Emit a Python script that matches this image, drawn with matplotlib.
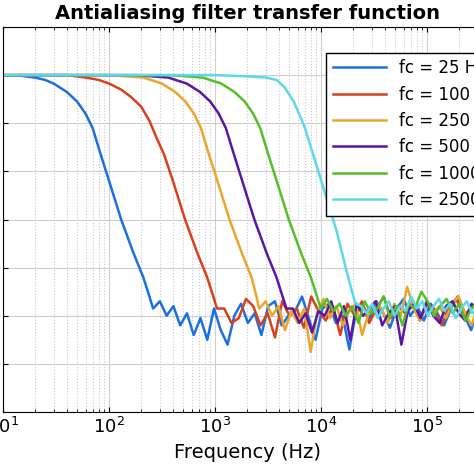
import numpy as np
import matplotlib
matplotlib.use('Agg')
import matplotlib.pyplot as plt

labels = ['fc = 25 Hz', 'fc = 100', 'fc = 250', 'fc = 500', 'fc = 1000', 'fc = 2500']
colors = ['#1c6fe0', '#d9401c', '#e8a72c', '#5a16a8', '#55bf28', '#5cd8ec']

# roll-off part of each curve (Hz, dB)
roll_f = [
    [10, 15, 20, 25, 30, 40, 50, 60, 70, 82, 100, 130, 170, 210, 240, 260],
    [10, 40, 60, 80, 100, 130, 160, 200, 240, 280, 330, 400, 520, 680, 840, 960, 1040],
    [10, 105, 210, 315, 420, 525, 630, 735, 860, 1050, 1365, 1785, 2200, 2450, 2600],
    [10, 180, 360, 540, 720, 900, 1080, 1260, 1480, 1800, 2340, 3060, 3780, 4320, 4700],
    [10, 380, 760, 1140, 1520, 1900, 2280, 2660, 3120, 3800, 4940, 6460, 7980, 9120, 9880],
    [10, 1000, 2000, 3000, 3800, 4500, 5500, 6900, 8000, 9100, 11000, 14000, 17000, 19500, 21000],
]
roll_db = [
    [0, -0.3, -1, -2, -3.5, -7, -11, -16, -22, -32, -44, -60, -74, -84, -92, -97],
    [0, 0, -1, -2, -3.5, -6, -9, -13, -19, -26, -33, -44, -60, -74, -84, -92, -97],
    [0, 0, -1, -3.5, -7, -11, -16, -22, -32, -44, -60, -74, -84, -92, -97],
    [0, 0, -1, -3.5, -7, -11, -16, -22, -32, -44, -60, -74, -84, -92, -97],
    [0, 0, -1, -3.5, -7, -11, -16, -22, -32, -44, -60, -74, -84, -92, -97],
    [0, 0, -0.5, -1, -2, -5, -11, -21, -30, -38, -50, -65, -80, -90, -95],
]
# noise floor after roll-off (dB), spread from last roll-off point to 3e5 Hz
noise_db = [
    [-94, -100, -96, -104, -99, -108, -101, -110, -97, -106, -112, -100, -95, -103, -99, -108, -96, -94, -104, -100,
     -98, -92, -101, -110, -97, -95, -103, -100, -114, -98, -96, -101, -94, -99, -105, -97, -93, -100, -96, -102,
     -95, -99, -104, -97, -92, -100, -106, -96],
    [-97, -103, -101, -93, -96, -104, -99, -109, -94, -100, -97, -105, -92, -98, -102, -96, -108, -95, -100, -94,
     -103, -97, -92, -101, -96, -99, -94, -102, -95, -98, -104, -96, -93, -100, -97, -95],
    [-94, -100, -96, -106, -98, -103, -97, -115, -99, -93, -101, -96, -104, -98, -95, -108, -99, -94, -97, -103,
     -95, -100, -88, -97, -102, -94, -99, -96, -101, -95, -92, -99, -104, -96],
    [-97, -103, -99, -107, -98, -100, -94, -103, -96, -110, -95, -100, -97, -94, -104, -99, -96, -112, -98, -95,
     -101, -94, -100, -103, -96, -94, -99, -102, -95, -98],
    [-93, -98, -95, -100, -96, -103, -94, -99, -97, -92, -101, -96, -104, -95, -97, -90, -94, -100, -96, -93, -99, -95,
     -102, -97, -94],
    [-96, -99, -95, -101, -97, -94, -100, -96, -98, -92, -97, -94, -100, -96, -93, -98, -95, -101, -97, -94, -99, -96],
]

fig = plt.figure(figsize=(4.74, 4.74), dpi=100)
ax = fig.add_axes([3 / 474, 62 / 474, 488 / 474, 385 / 474])

for f, d, nz, c, lab in zip(roll_f, roll_db, noise_db, colors, labels):
    nf = np.geomspace(f[-1], 3e5, len(nz) + 1)[1:]
    x = np.concatenate([f, nf])
    y = np.concatenate([d, nz])
    ax.semilogx(x, y, color=c, lw=1.8, label=lab)

ax.set_xlim(10, 10 ** 5.6)
ax.set_ylim(-140, 20)
ax.set_yticks(np.arange(-140, 21, 20))
ax.set_yticklabels([])
ax.grid(True, which='major', color='#d0d0d0', lw=0.8)
ax.grid(True, which='minor', color='#c8c8c8', ls=':', lw=0.8)
ax.tick_params(labelsize=13, direction='in', which='both', top=True)
ax.set_xlabel('Frequency (Hz)', fontsize=14)
ax.set_title('Antialiasing filter transfer function', fontsize=14, fontweight='bold')
leg = ax.legend(loc='upper left', bbox_to_anchor=(0.645, 0.955), fontsize=12,
                handlelength=3.2, fancybox=False, edgecolor='black', framealpha=1)
leg.get_frame().set_linewidth(1.0)

fig.savefig('out.png', dpi=100)
